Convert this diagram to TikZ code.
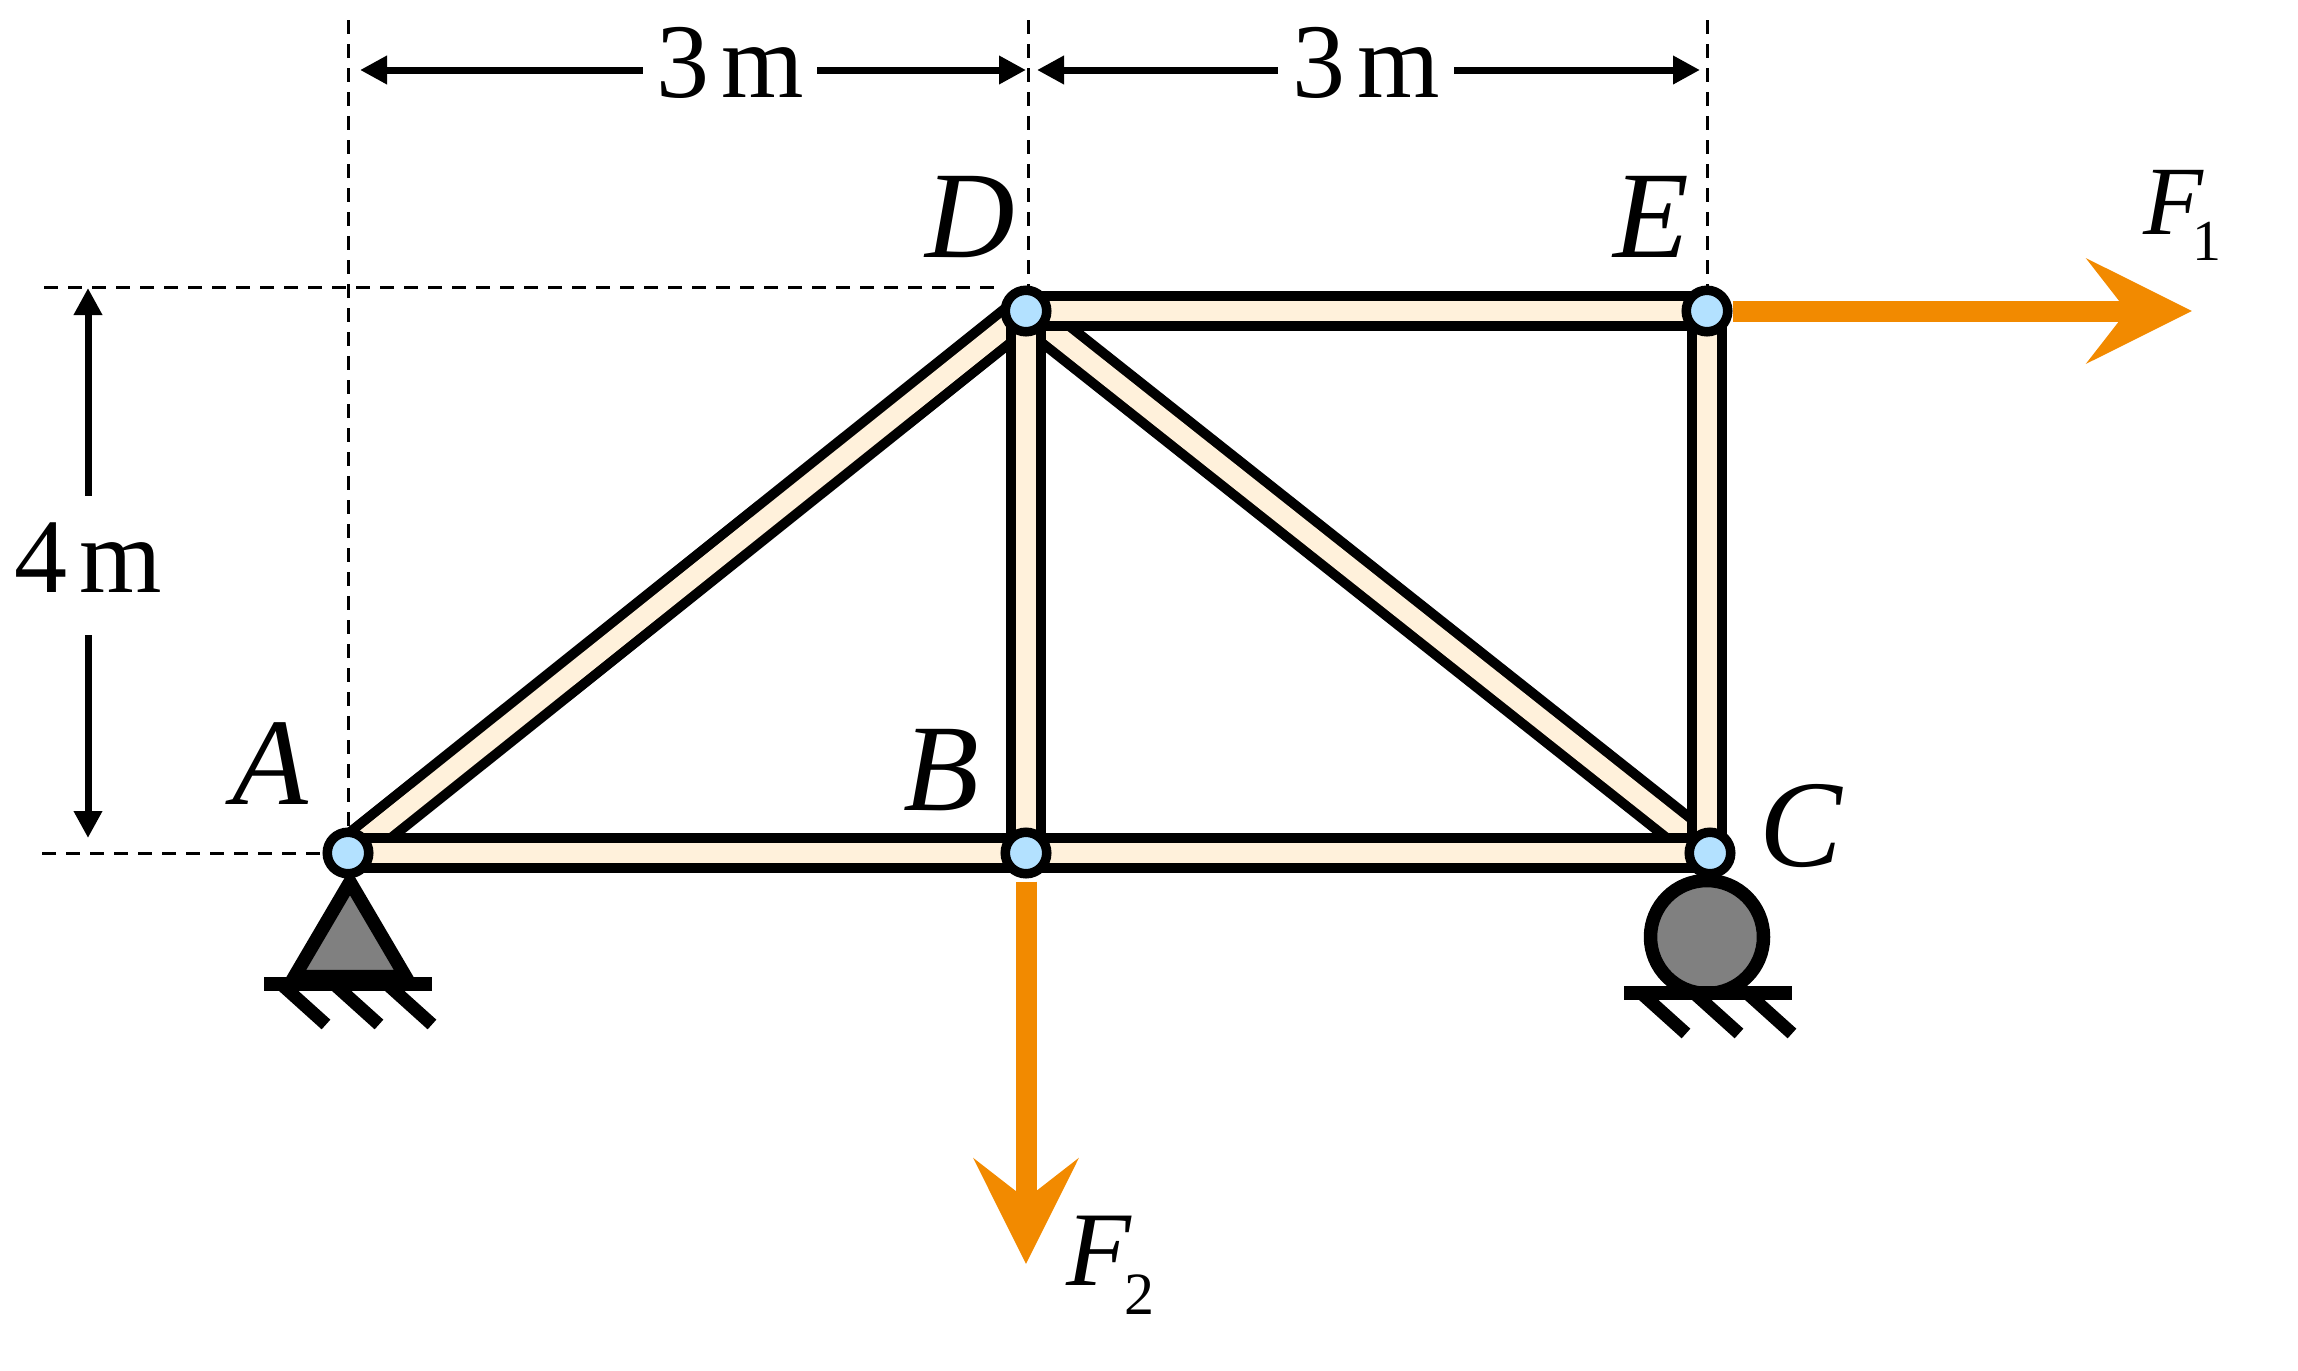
\documentclass[tikz,border=0pt]{standalone}
\usepackage{fontspec}
\setmainfont{Liberation Serif}
\usetikzlibrary{arrows.meta, backgrounds}
\definecolor{membercream}{HTML}{FFF1DB}
\definecolor{pinblue}{HTML}{B3E1FF}
\definecolor{loadorange}{HTML}{F28A00}
\definecolor{supportgray}{HTML}{808080}
\tikzset{
    pin joint/.style={circle, draw=black, fill=pinblue, line width=4.75pt, minimum size=20.75pt, inner sep=0pt},
    member/.style={draw=black, line width=5pt, double=membercream, double distance=10pt},
    guide/.style={draw=black, line width=1.5pt, dash pattern=on 7pt off 5pt},
    dimarrow/.style={draw=black, line width=3.5pt, -{Triangle[length=13.5pt,width=13.5pt]}},
    dimlabel/.style={font=\fontsize{53}{53}\selectfont, inner sep=0pt, text height=35.5pt, text depth=8.5pt},
    loadarrow/.style={draw=loadorange, line width=10.5pt, -{Stealth[length=52.5pt,width=52pt,inset=20pt]}},
    jointname/.style={font=\fontsize{62}{62}\selectfont\itshape, inner sep=0pt, anchor=base},
    loadname/.style={inner sep=0pt, anchor=base west},
    supportbody/.style={draw=black, fill=supportgray, line width=6.75pt},
    ground/.style={draw=black, line width=7pt},
    hatch/.style={draw=black, line width=6.5pt}
}
\begin{document}
\begin{tikzpicture}[x=0.5pt, y=-0.5pt]
    \useasboundingbox (0,0) rectangle (2298,1371);

    \node (A) [pin joint] at (348,853) {};
    \node (B) [pin joint] at (1026,853) {};
    \node (C) [pin joint] at (1710,853) {};
    \node (D) [pin joint] at (1026,311) {};
    \node (E) [pin joint] at (1707,311) {};

    \coordinate (guideA) at (348.7,20);
    \coordinate (guideD) at (1028,20);
    \coordinate (guideE) at (1707,20);
    \coordinate (guideTop) at (44,287.5);
    \coordinate (guideBottom) at (42,853);

    \begin{scope}[on background layer]
        \draw[guide] (guideA) -- (guideA |- A.north);
        \draw[guide] (guideD) -- (guideD |- D.north);
        \draw[guide] (guideE) -- (guideE |- E.north);
        \draw[guide] (guideTop) -- (D.west |- guideTop);
        \draw[guide] (guideBottom) -- (A.west);

        \draw[member] (A.center) -- (D.center);
        \draw[member] (D.center) -- (C.center);
        \draw[member] (D.center) -- (B.center);
        \draw[member] (E.center) -- (E.center |- C.center);
        \draw[member] (A.center) -- (B.center);
        \draw[member] (B.center) -- (C.center);
        \draw[member] (D.center) -- (E.center);

        \draw[supportbody] (350,882) -- (405.5,976.5) -- (294.5,976.5) -- cycle;
        \draw[ground] (264,984) -- (432,984);
        \draw[hatch] (281,984) -- (326,1024.5);
        \draw[hatch] (334,984) -- (379,1024.5);
        \draw[hatch] (387,984) -- (432,1024.5);

        \draw[supportbody] (1707,937) circle[radius=28.25pt];
        \draw[ground] (1624,993) -- (1792,993);
        \draw[hatch] (1641,993) -- (1686,1033.5);
        \draw[hatch] (1694,993) -- (1739,1033.5);
        \draw[hatch] (1747,993) -- (1792,1033.5);
    \end{scope}

    \coordinate (tipF1) at (2192,311);
    \coordinate (tipF2) at (1026,1264);
    \draw[loadarrow] (E.east) -- (tipF1);
    \draw[loadarrow, shorten <=1.5pt] (B.south) -- (tipF2);

    \node (dimAD) [dimlabel, minimum width=87pt] at (730,70) {3\kern0.11em m};
    \node (dimDE) [dimlabel, minimum width=88pt] at (1366,70) {3\kern0.11em m};
    \node (dimH) [dimlabel, minimum height=69.5pt] at (88,565.5) {4\kern0.11em m};
    \coordinate (tipAleft) at (360,70);
    \coordinate (tipDright) at (1026,70);
    \coordinate (tipDleft) at (1037,70);
    \coordinate (tipEright) at (1700,70);
    \coordinate (tipHtop) at (88,288);
    \coordinate (tipHbottom) at (88,838);
    \draw[dimarrow] (dimAD.west) -- (tipAleft);
    \draw[dimarrow] (dimAD.east) -- (tipDright);
    \draw[dimarrow] (dimDE.west) -- (tipDleft);
    \draw[dimarrow] (dimDE.east) -- (tipEright);
    \draw[dimarrow] (dimH.north) -- (tipHtop);
    \draw[dimarrow] (dimH.south) -- (tipHbottom);

    \node (nameA) [jointname] at (270,804) {A};
    \node (nameB) [jointname] at (941,810) {B};
    \node (nameC) [jointname] at (1801,866) {C};
    \node (nameD) [jointname] at (970,257) {D};
    \node (nameE) [jointname] at (1651,257) {E};
    \node (nameF1) [loadname, font=\fontsize{49}{49}\selectfont] at (2143,234) {\textit{F}\kern-6pt\raisebox{-13pt}{\fontsize{29}{29}\selectfont 1}};
    \node (nameF2) [loadname, font=\fontsize{53}{53}\selectfont] at (1066,1285) {\textit{F}\kern-4pt\raisebox{-14.5pt}{\fontsize{30}{30}\selectfont 2}};
\end{tikzpicture}
\end{document}
